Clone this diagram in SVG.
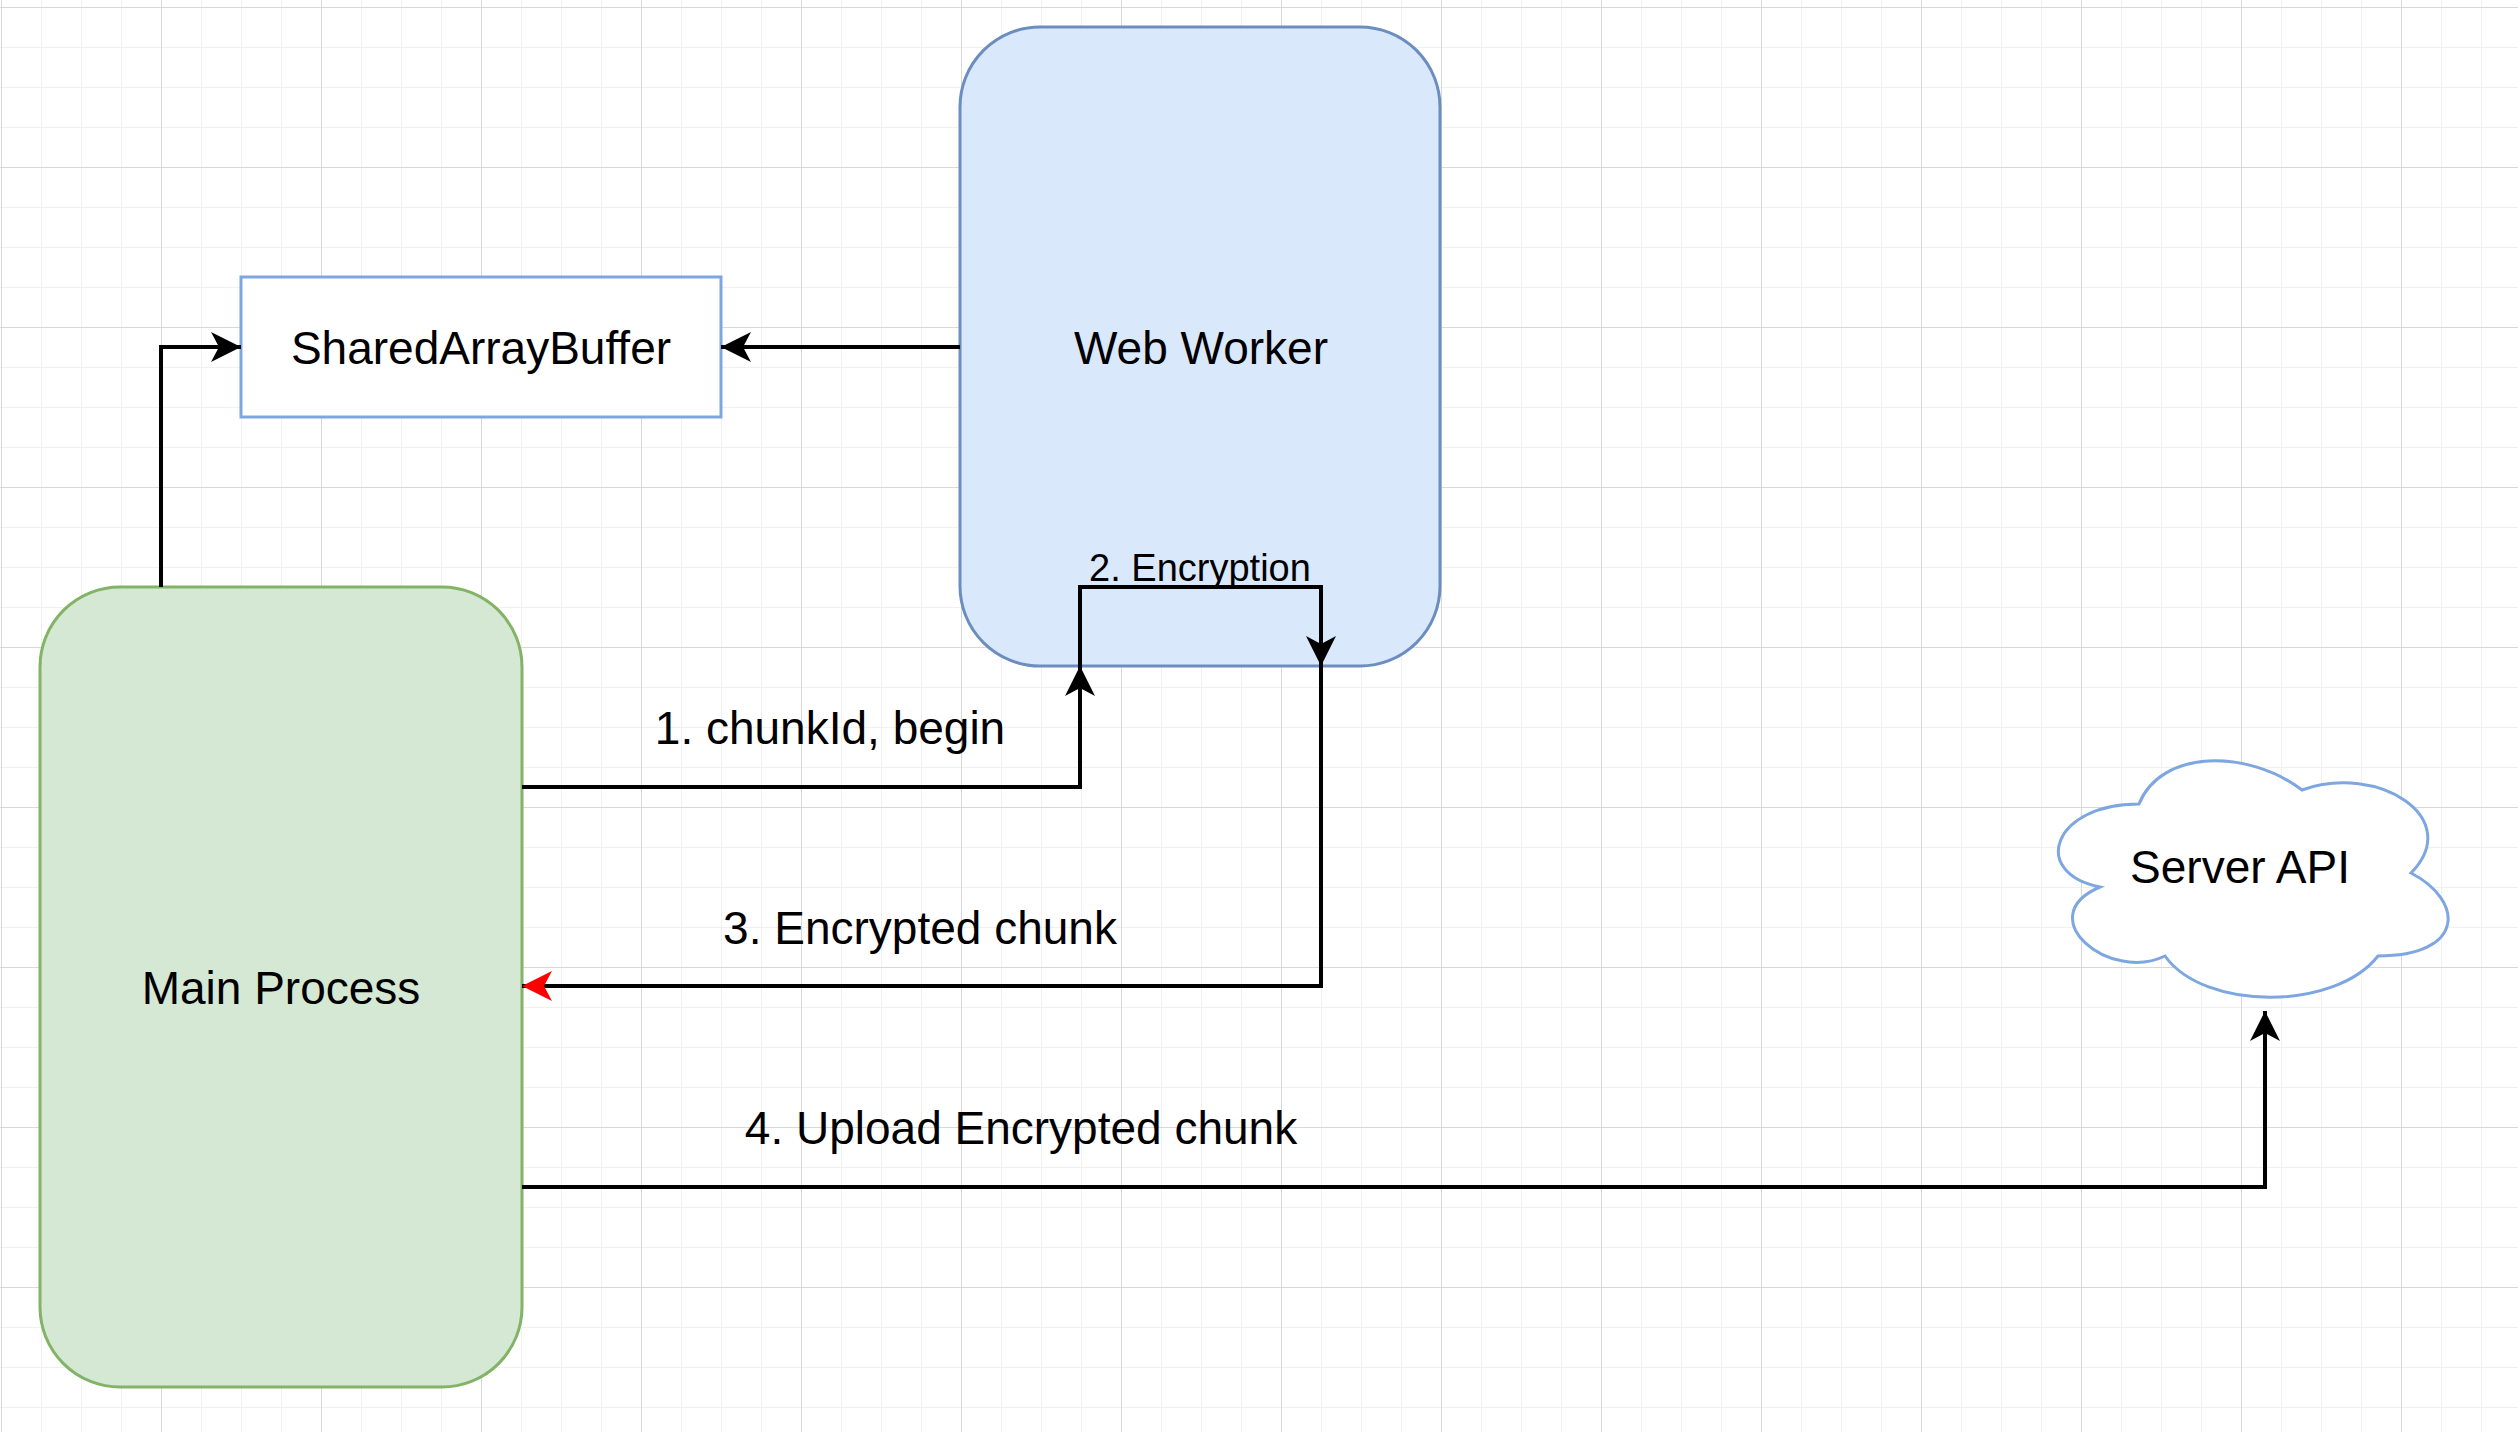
<svg xmlns="http://www.w3.org/2000/svg" width="2518" height="1432" viewBox="0 0 2518 1432">
<defs>
<pattern id="minor" x="1" y="7" width="40" height="40" patternUnits="userSpaceOnUse"><path d="M0 0H40M0 0V40" fill="none" stroke="#f0f0f0" stroke-width="2"/></pattern>
<pattern id="major" x="1" y="7" width="160" height="160" patternUnits="userSpaceOnUse"><path d="M0 0H160M0 0V160" fill="none" stroke="#d8d8d8" stroke-width="2"/></pattern>
<marker id="ab" markerUnits="userSpaceOnUse" markerWidth="40" markerHeight="40" refX="30" refY="15" orient="auto" viewBox="0 0 40 30"><path d="M0 0L30 15L0 30L8 15Z" fill="#000"/></marker>
<marker id="ar" markerUnits="userSpaceOnUse" markerWidth="40" markerHeight="40" refX="30" refY="15" orient="auto" viewBox="0 0 40 30"><path d="M0 0L30 15L0 30L8 15Z" fill="#ff0000"/></marker>
</defs>
<style>
text{font-family:"Liberation Sans",Arial,sans-serif;fill:#000;text-anchor:middle}
.n{font-size:46px}
.l{font-size:46px}
.e{stroke:#000;stroke-width:4;fill:none}
</style>
<rect width="2518" height="1432" fill="#fff"/>
<rect width="2518" height="1432" fill="url(#minor)"/>
<rect width="2518" height="1432" fill="url(#major)"/>
<g id="web-worker"><rect x="960" y="27" width="480" height="639" rx="80" fill="#dae8fc" stroke="#6c8ebf" stroke-width="3"/><text class="n" x="1201" y="364">Web Worker</text></g>
<g id="shared-array-buffer"><rect x="241" y="277" width="480" height="140" fill="#fff" stroke="#7ea6e0" stroke-width="3"/><text class="n" x="481" y="364">SharedArrayBuffer</text></g>
<g id="main-process"><rect x="40" y="587" width="482" height="800" rx="80" fill="#d5e8d4" stroke="#82b366" stroke-width="3"/><text class="n" x="281" y="1004">Main Process</text></g>
<g id="server-api"><path d="M2139 804C2052 804 2030 873 2100 887C2030 917 2109 983 2165 956C2204 1011 2335 1011 2378 956C2465 956 2465 901 2411 873C2465 818 2378 763 2302 790C2248 749 2161 749 2139 804Z" fill="#fff" stroke="#7ea6e0" stroke-width="3"/><text class="n" x="2240" y="883">Server API</text></g>
<g id="connectors">
<path class="e" d="M960 347H721" marker-end="url(#ab)"/>
<path class="e" d="M161 587V347H241" marker-end="url(#ab)"/>
<path class="e" d="M522 787H1080V666" marker-end="url(#ab)"/>
<path class="e" d="M1080 666V587H1321V666" marker-end="url(#ab)"/>
<path class="e" d="M1321 666V986H522" stroke="#ff0000" marker-end="url(#ar)"/>
<path class="e" d="M522 1187H2265V1011" marker-end="url(#ab)"/>
<text style="font-size:38px" x="1200" y="581">2. Encryption</text>
<text class="l" x="830" y="744">1. chunkId, begin</text>
<text class="l" x="920" y="944">3. Encrypted chunk</text>
<text class="l" x="1021" y="1144">4. Upload Encrypted chunk</text>
</g>
</svg>
